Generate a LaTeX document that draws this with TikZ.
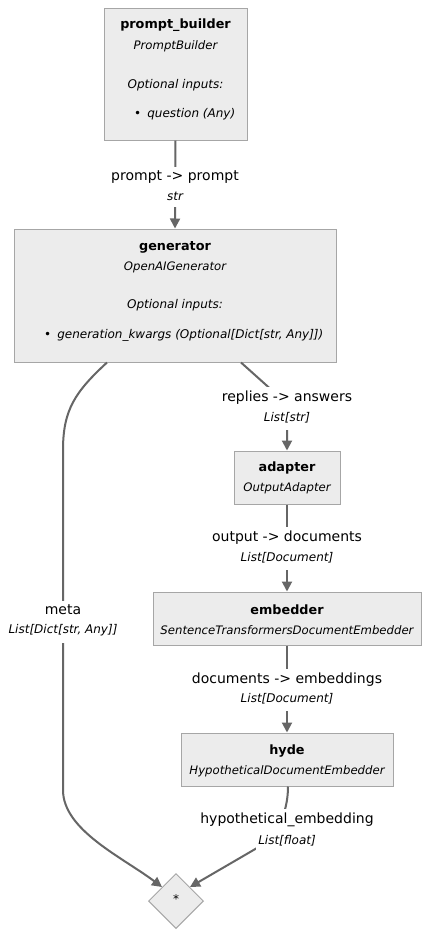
\documentclass[tikz,border=0pt]{standalone}
\usepackage{fontspec}
\setmainfont{DejaVu Sans}
\usetikzlibrary{arrows.meta,shapes.geometric}
\definecolor{boxfill}{HTML}{ECECEC}
\definecolor{boxline}{HTML}{A6A6A6}
\definecolor{edgecol}{HTML}{666666}
\begin{document}
\begin{tikzpicture}[x=1pt,y=-1pt,
  box/.style={draw=boxline, fill=boxfill, line width=1pt, inner sep=0pt},
  ttl/.style={inner sep=0pt, font=\fontsize{12.8}{15}\selectfont\bfseries, text=black},
  cls/.style={inner sep=0pt, font=\fontsize{11.7}{14}\selectfont\itshape, text=black},
  opt/.style={inner sep=0pt, font=\fontsize{12}{14}\selectfont\itshape, text=black},
  elab/.style={fill=white, inner xsep=2.5pt, inner ysep=4pt, font=\fontsize{14}{16}\selectfont, text=black},
  etyp/.style={fill=white, inner xsep=2.5pt, inner ysep=7pt, font=\fontsize{12}{14}\selectfont\itshape, text=black},
  edge/.style={draw=edgecol, line width=2pt, -{Triangle[length=10pt,width=10pt]}},
  dia/.style={diamond, draw=boxline, fill=boxfill, line width=1pt, minimum width=55pt, minimum height=55pt, inner sep=0pt}
]
\useasboundingbox (0,0) rectangle (430,937);
\fill[white] (0,0) rectangle (430,937);

% boxes
\node[box, minimum width=143pt, minimum height=132pt] (pb) at (175.5,74) {};
\node[box, minimum width=322pt, minimum height=133pt] (gen) at (175,295.5) {};
\node[box, minimum width=106pt, minimum height=53pt] (ad) at (287,477.5) {};
\node[box, minimum width=268pt, minimum height=53pt] (emb) at (287,618.5) {};
\node[box, minimum width=212pt, minimum height=53pt] (hyde) at (287,759.5) {};
\node[dia] (join) at (176,901) {};

% box texts
\node[ttl] (pbt) at (175.5,25) {prompt\_builder};
\node[cls] (pbc) at (175.5,46) {PromptBuilder};
\node[opt] (pbo) at (175.5,85) {Optional inputs:};
\node[opt, anchor=west] (pbi) at (134,114) {•\hspace{6pt}question (Any)};

\node[ttl] (gent) at (175,247) {generator};
\node[cls] (genc) at (175,267) {OpenAIGenerator};
\node[opt] (geno) at (175,305) {Optional inputs:};
\node[opt, anchor=west] (geni) at (44,335) {•\hspace{6pt}generation\_kwargs (Optional[Dict[str, Any]])};

\node[ttl] (adt) at (287,468) {adapter};
\node[cls] (adc) at (287,488) {OutputAdapter};

\node[ttl] (embt) at (287,610) {embedder};
\node[cls] (embc) at (287,630) {SentenceTransformersDocumentEmbedder};

\node[ttl] (hydet) at (287,751) {hyde};
\node[cls] (hydec) at (287,771) {HypotheticalDocumentEmbedder};

\node[inner sep=0pt, font=\fontsize{12}{14}\selectfont] (star) at (176,899) {*};

% edges
\draw[edge] (pb.south) -- (gen.north);
\draw[edge] ([xshift=66pt]gen.south) -- (265,384) .. controls (287,404) .. (287,425) -- (ad.north);
\draw[edge] ([xshift=-68pt]gen.south) .. controls (75,392) and (63,410) .. (63,450) -- (63,790) .. controls (63,830) and (122,857) .. (join.north west);
\draw[edge] (ad.south) -- (emb.north);
\draw[edge] (emb.south) -- (hyde.north);
\draw[edge] ([xshift=1pt]hyde.south) .. controls (288,815) and (275,838) .. (257,848) -- (join.north east);

% edge labels
\node[etyp] (t1) at (175,196) {str};
\node[elab] (l1) at (175,177) {prompt -> prompt};
\node[etyp] (t2) at (287,418) {List[str]};
\node[elab] (l2) at (287,398) {replies -> answers};
\node[etyp] (t3) at (287,558) {List[Document]};
\node[elab] (l3) at (287,538) {output -> documents};
\node[etyp] (t4) at (287,699) {List[Document]};
\node[elab] (l4) at (287,680) {documents -> embeddings};
\node[etyp] (t5) at (63,630) {List[Dict[str, Any]]};
\node[elab] (l5) at (63,610) {meta};
\node[etyp] (t6) at (287,841) {List[float]};
\node[elab] (l6) at (287,820) {hypothetical\_embedding};
\end{tikzpicture}
\end{document}
